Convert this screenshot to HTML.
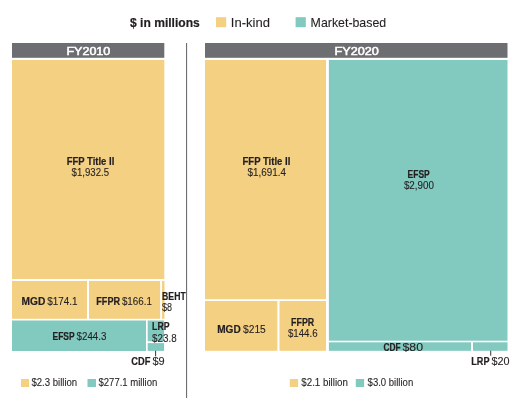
<!DOCTYPE html>
<html><head><meta charset="utf-8">
<style>
html,body{margin:0;padding:0;background:#fff;}
body{width:519px;height:398px;overflow:hidden;}
svg{display:block;will-change:transform;}
text{font-family:"Liberation Sans",sans-serif;fill:#231f20;stroke:#231f20;stroke-width:0.1px;}
.b{stroke-width:0.2px;}
.b{font-weight:bold;}
</style></head><body>
<svg width="519" height="398" viewBox="0 0 519 398">
<!-- top legend -->
<text class="b" x="130" y="27" font-size="13.5" textLength="69.8" lengthAdjust="spacingAndGlyphs">$ in millions</text>
<rect x="216" y="17.2" width="10.2" height="10" fill="#f4d083"/>
<text x="230.8" y="27" font-size="13.5" textLength="39.2" lengthAdjust="spacingAndGlyphs">In-kind</text>
<rect x="295.6" y="17.2" width="10.2" height="10" fill="#82c9bf"/>
<text x="310.6" y="27" font-size="13.5" textLength="75.6" lengthAdjust="spacingAndGlyphs">Market-based</text>

<!-- headers -->
<rect x="12" y="43" width="152.3" height="14.8" fill="#6d6e71"/>
<rect x="205" y="43" width="302.5" height="14.8" fill="#6d6e71"/>
<text x="66.4" y="55" font-size="11.5" style="fill:#fff;stroke:#fff;stroke-width:0.55px" textLength="43.9" lengthAdjust="spacingAndGlyphs">FY2010</text>
<text x="334.5" y="55" font-size="11.5" style="fill:#fff;stroke:#fff;stroke-width:0.55px" textLength="44.3" lengthAdjust="spacingAndGlyphs">FY2020</text>

<!-- divider -->
<rect x="186" y="43" width="1.1" height="355" fill="#6d6e71"/>

<!-- left chart -->
<g fill="#f4d083">
<rect x="12" y="60" width="152.3" height="219"/>
<rect x="12" y="281" width="75" height="37.8"/>
<rect x="89" y="281" width="71.1" height="37.8"/>
<rect x="162" y="281" width="2.5" height="37.8"/>
</g>
<g fill="#82c9bf">
<rect x="12" y="320.5" width="134" height="30.5"/>
<rect x="147.7" y="320.5" width="16.4" height="20.8"/>
<rect x="147.7" y="343.1" width="16.4" height="7.8"/>
<rect x="21" y="379" width="8" height="8" fill="#f4d083"/>
<rect x="87.5" y="379" width="8.5" height="8"/>
</g>
<rect x="155.2" y="350.8" width="0.9" height="5.5" fill="#231f20"/>

<text class="b" x="66.7" y="165.2" font-size="10" textLength="47.6" lengthAdjust="spacingAndGlyphs">FFP Title II</text>
<text x="71.6" y="176.4" font-size="10" textLength="37.5" lengthAdjust="spacingAndGlyphs">$1,932.5</text>
<text class="b" x="21.5" y="304.6" font-size="10" textLength="23.8" lengthAdjust="spacingAndGlyphs">MGD</text><text x="47.3" y="304.6" font-size="10" textLength="30.3" lengthAdjust="spacingAndGlyphs">$174.1</text>
<text class="b" x="96.3" y="304.6" font-size="10" textLength="23.8" lengthAdjust="spacingAndGlyphs">FFPR</text><text x="121.9" y="304.6" font-size="10" textLength="30.0" lengthAdjust="spacingAndGlyphs">$166.1</text>
<text class="b" x="162.1" y="300.1" font-size="10" textLength="23.6" lengthAdjust="spacingAndGlyphs">BEHT</text>
<text x="162" y="311.4" font-size="10" textLength="10" lengthAdjust="spacingAndGlyphs">$8</text>
<text class="b" x="52.5" y="339.7" font-size="10" textLength="22.1" lengthAdjust="spacingAndGlyphs">EFSP</text><text x="76.6" y="339.7" font-size="10" textLength="29.8" lengthAdjust="spacingAndGlyphs">$244.3</text>
<text class="b" x="152.1" y="330.3" font-size="10" textLength="17.4" lengthAdjust="spacingAndGlyphs">LRP</text>
<text x="152.1" y="341.5" font-size="10" textLength="24.5" lengthAdjust="spacingAndGlyphs">$23.8</text>
<text class="b" x="131.3" y="364.8" font-size="10" textLength="19.1" lengthAdjust="spacingAndGlyphs">CDF</text><text x="152.4" y="364.8" font-size="10" textLength="12.2" lengthAdjust="spacingAndGlyphs">$9</text>
<text x="31.4" y="386.2" font-size="11" textLength="45.8" lengthAdjust="spacingAndGlyphs">$2.3 billion</text>
<text x="98.5" y="386.2" font-size="11" textLength="58.8" lengthAdjust="spacingAndGlyphs">$277.1 million</text>

<!-- right chart -->
<g fill="#f4d083">
<rect x="205" y="60" width="121" height="239.2"/>
<rect x="205" y="301" width="72.4" height="49.8"/>
<rect x="279.5" y="301" width="46.5" height="49.8"/>
<rect x="289.8" y="379" width="8.3" height="8"/>
</g>
<g fill="#82c9bf">
<rect x="328.9" y="60" width="178.6" height="280.7"/>
<rect x="328.9" y="342.3" width="142.1" height="8.5"/>
<rect x="473" y="342.3" width="34.5" height="8.5"/>
<rect x="355.8" y="379" width="8.3" height="8"/>
</g>
<rect x="490.3" y="350.7" width="0.9" height="5" fill="#231f20"/>

<text class="b" x="242.5" y="165.2" font-size="10" textLength="47.8" lengthAdjust="spacingAndGlyphs">FFP Title II</text>
<text x="247.5" y="176.4" font-size="10" textLength="38.4" lengthAdjust="spacingAndGlyphs">$1,691.4</text>
<text class="b" x="407.6" y="177.9" font-size="10" textLength="22.1" lengthAdjust="spacingAndGlyphs">EFSP</text>
<text x="403.9" y="188.5" font-size="10" textLength="30" lengthAdjust="spacingAndGlyphs">$2,900</text>
<text class="b" x="217.2" y="333.2" font-size="10" textLength="23.5" lengthAdjust="spacingAndGlyphs">MGD</text><text x="243.0" y="333.2" font-size="10" textLength="22.8" lengthAdjust="spacingAndGlyphs">$215</text>
<text class="b" x="291.1" y="325.8" font-size="10" textLength="23.1" lengthAdjust="spacingAndGlyphs">FFPR</text>
<text x="287.9" y="336.9" font-size="10" textLength="29.7" lengthAdjust="spacingAndGlyphs">$144.6</text>
<text class="b" x="383.5" y="351" font-size="10" textLength="17.2" lengthAdjust="spacingAndGlyphs">CDF</text><text x="402.5" y="351" font-size="10" textLength="20.5" lengthAdjust="spacingAndGlyphs">$80</text>
<text class="b" x="471.3" y="365.2" font-size="10" textLength="18.2" lengthAdjust="spacingAndGlyphs">LRP</text><text x="491.4" y="365.2" font-size="10" textLength="18.0" lengthAdjust="spacingAndGlyphs">$20</text>
<text x="301.3" y="386" font-size="11" textLength="46.6" lengthAdjust="spacingAndGlyphs">$2.1 billion</text>
<text x="367.6" y="386" font-size="11" textLength="45.6" lengthAdjust="spacingAndGlyphs">$3.0 billion</text>
</svg>
</body></html>
